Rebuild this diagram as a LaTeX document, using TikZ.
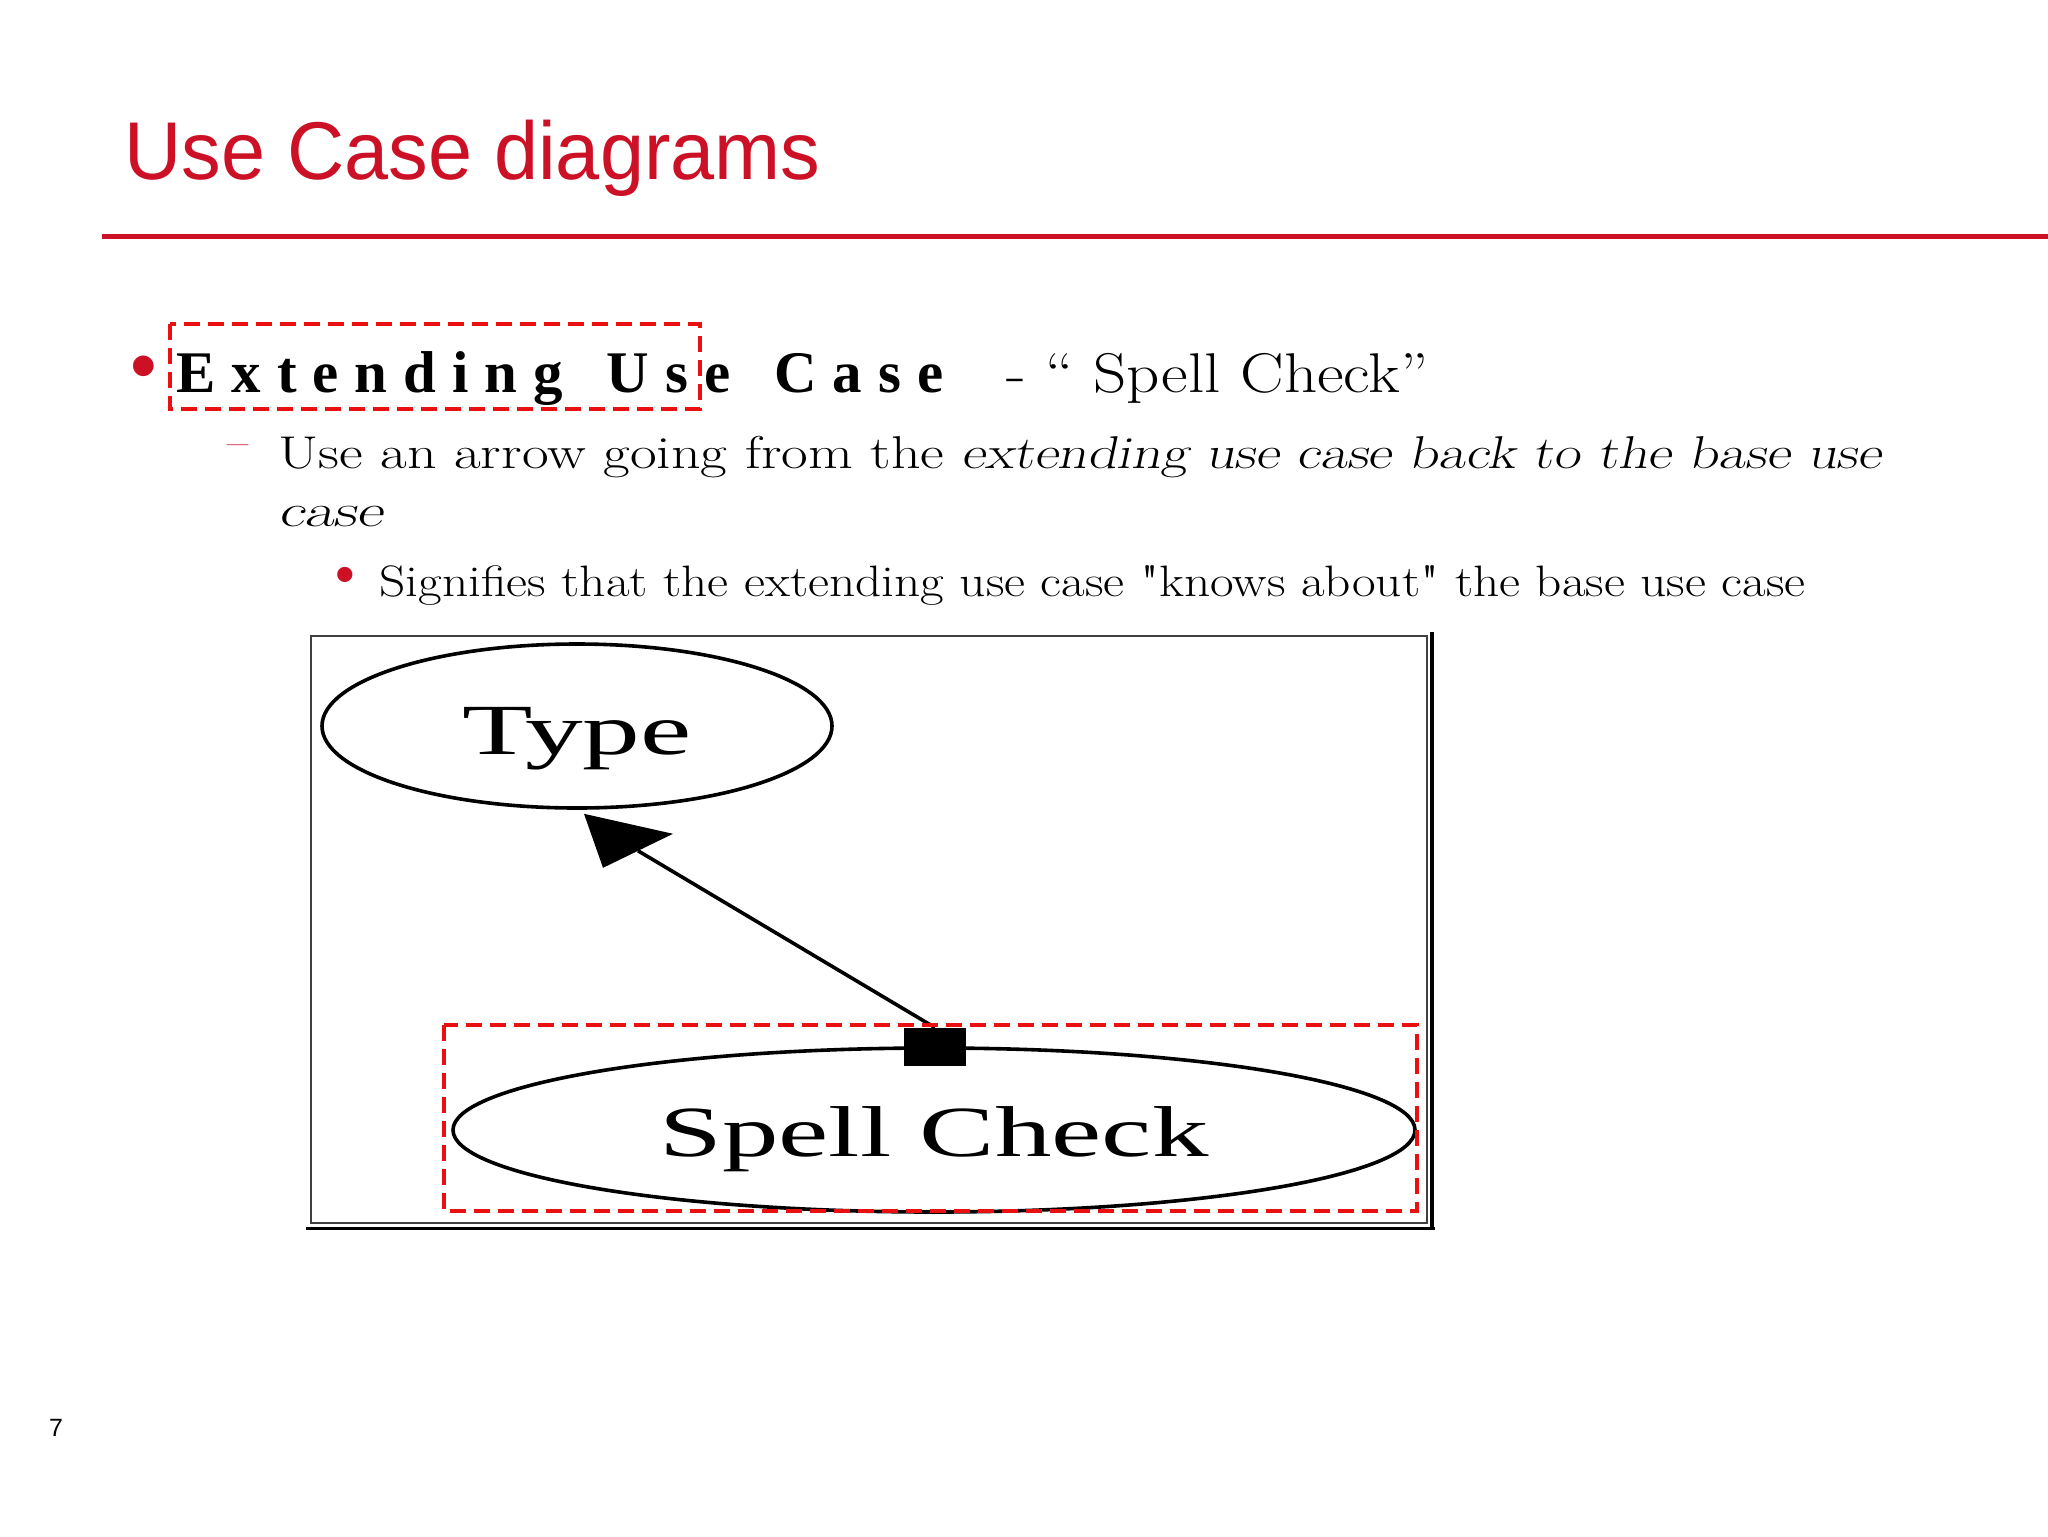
\documentclass[tikz,border=0pt]{standalone}
\usepackage{fontspec}
\newfontfamily\arialf{Liberation Sans}
\newfontfamily\timesf{Liberation Serif}
\newfontfamily\lmq{lmroman10-regular.otf}[Ligatures=TeXOff]
\usetikzlibrary{arrows.meta,shapes.geometric}
\definecolor{titlered}{RGB}{204,16,38}
\definecolor{dashred}{RGB}{232,16,16}
\newsavebox\fitbox
\newcommand\fitw[2]{\sbox\fitbox{#2}\pgfmathsetmacro\fitfac{#1/\the\wd\fitbox}\scalebox{\fitfac}[1]{\usebox\fitbox}}
\newcommand\lsp{\hspace{8pt}}
\newcommand\wsp{\hspace{22pt}}
\newcommand\sq{{\lmq"}}
\begin{document}
\begin{tikzpicture}[x=0.5pt,y=-0.5pt,
  txt/.style={inner sep=0pt, anchor=base west},
  hl/.style={draw=dashred, line width=2pt, dash pattern=on 8pt off 4pt},
  uc/.style={ellipse, draw, line width=1.8pt, inner sep=0pt, font=\timesf\fontsize{36}{40}\selectfont},
  bul/.style={text=titlered, inner sep=0pt}]
\fill[white] (0,0) rectangle (2048,1536);
\useasboundingbox (0,0) rectangle (2048,1536);
% title
\node[txt, text=titlered, font=\arialf\fontsize{41}{48}\selectfont] (title) at (124,179) {\fitw{348pt}{Use Case diagrams}};
\coordinate (rl) at (102,236);
\coordinate (rr) at (2048,236);
\draw[titlered, line width=2.5pt] (rl) -- (rr);
% bullet 1
\node[bul, font=\arialf\fontsize{38}{40}\selectfont] (b1) at (144,374) {•};
\node[txt, font=\timesf\bfseries\fontsize{29.5}{32}\selectfont] (ext) at (176,392) {\fitw{383.5pt}{E\lsp x\lsp t\lsp e\lsp n\lsp d\lsp i\lsp n\lsp g\wsp U\lsp s\lsp e\wsp C\lsp a\lsp s\lsp e}};
\node[txt, font=\fontsize{28}{30}\selectfont] (spc) at (1006,392) {\fitw{211pt}{- “ Spell Check”}};
\draw[hl] (170,324) rectangle (700,409);
% sub bullet
\node[text=titlered, inner sep=0pt, font=\fontsize{23}{26}\selectfont] (d1) at (238,451) {–};
\node[txt, font=\fontsize{23}{26}\selectfont] (l2) at (278,468) {\fitw{802.5pt}{Use an arrow going from the \textsl{extending use case back to the base use}}};
\node[txt, font=\fontsize{23}{26}\selectfont] (l3) at (278,526) {\fitw{53.5pt}{\textsl{case}}};
% sub-sub bullet
\node[bul, font=\arialf\fontsize{28}{30}\selectfont] (b2) at (345,580) {•};
\node[txt, font=\fontsize{22}{25}\selectfont] (l4) at (379,596) {\fitw{713pt}{Signifies that the extending use case \sq knows about\sq{} the base use case}};
% diagram frame
\draw[line width=1.2pt, black!75] (311,636) rectangle (1427,1223);
\draw[line width=2pt] (1432,632) -- (1432,1229);
\draw[line width=1.5pt] (306,1228) -- (1435,1228);
% use cases
\node[uc, minimum width=255pt, minimum height=82pt, text height=30pt, text depth=2pt] (type) at (577,726) {\fitw{114.5pt}{Type}};
\node[uc, minimum width=481pt, minimum height=82pt, text height=28pt, text depth=2pt] (spell) at (934,1130) {\fitw{274.5pt}{Spell Check}};
\node[fill=black, inner sep=0pt, minimum width=31pt, minimum height=19pt] (sq) at (935,1047) {};
% extend arrow (head drawn in the stretched frame of the picture)
\coordinate (tipc) at ([shift={(7,4)}]type.south);
\coordinate (basec) at ([shift={(54,37)}]tipc);
\draw[line width=1.8pt] (sq.north) -- (basec);
\fill (tipc) -- ++(19,54) -- ++(70,-34) -- cycle;
\draw[hl] (444,1025) rectangle (1417,1211);
% page number
\node[inner sep=0pt, font=\arialf\fontsize{12.5}{14}\selectfont] (pg) at (56,1428) {7};
\end{tikzpicture}
\end{document}
